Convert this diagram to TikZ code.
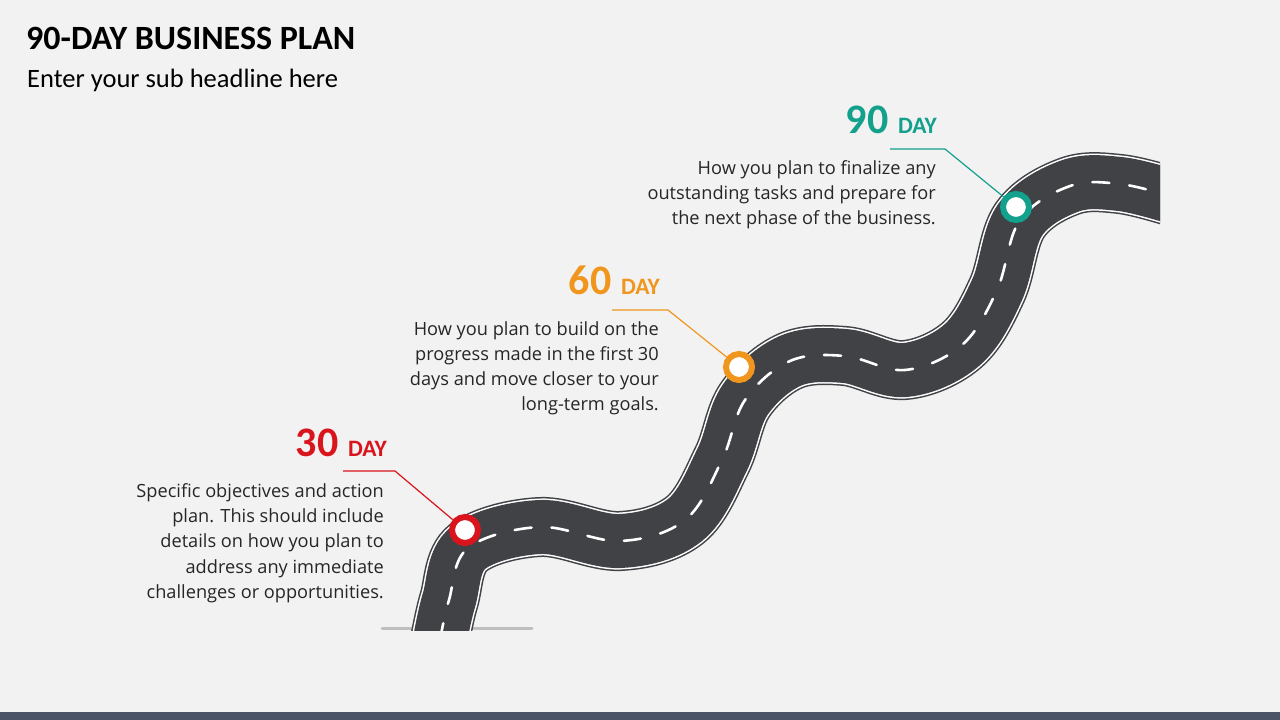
\documentclass[tikz,border=0pt]{standalone}
\usepackage{fontspec}
\setmainfont{Carlito}
\newfontfamily\bodyfont{Open Sans}
\definecolor{rd}{HTML}{D9141C}
\definecolor{og}{HTML}{F0961E}
\definecolor{tl}{HTML}{13A08C}
\definecolor{asph}{HTML}{404246}
\definecolor{barc}{HTML}{4A5466}
\begin{document}
\begin{tikzpicture}[x=1pt,y=-1pt,
  body/.style={align=right,font=\bodyfont\fontsize{18.2}{25.3}\selectfont,text=black!85,inner sep=0pt},
  daylbl/.style={inner sep=0pt,anchor=base east},
  ring/.style={circle,draw=#1,line width=6pt,fill=white,minimum size=26pt,inner sep=0pt}]
\fill[black!5] (0,0) rectangle (1280,720);
\fill[barc] (0,712) rectangle (1280,720);
\useasboundingbox (0,0) rectangle (1280,720);
\node[anchor=base west,inner sep=0pt,font=\bfseries\fontsize{34}{38}\selectfont] (title) at (26,49) {90-DAY BUSINESS PLAN};
\node[anchor=base west,inner sep=0pt,font=\fontsize{26.5}{30}\selectfont] (sub) at (27,87) {Enter your sub headline here};
% shadow
\draw[black!25,line width=3pt,line cap=round] (382,628) -- (532,628);
\begin{scope}
\clip (300,100) rectangle (1160,630);
\def\road{plot[smooth,tension=0.6] coordinates {(440,640) (449,600) (468,548) (540,527) (620,541) (685,520) (722,460) (745,400) (790,361) (845,356) (905,370) (962,345) (997,290) (1020,220) (1070,186) (1120,184) (1170,196)}}
\draw[asph,line width=60pt] \road;
\draw[white,line width=57pt] \road;
\draw[asph,line width=54pt] \road;
\draw[white,line width=2.6pt,dash pattern=on 17pt off 20pt,line cap=round] \road;
\end{scope}
% markers
\node[ring=rd] (c1) at (465,530) {};
\node[ring=og] (c2) at (739,367) {};
\node[ring=tl] (c3) at (1016,207) {};
\coordinate (k1) at (395,471); \coordinate (e1) at (343,471);
\coordinate (k2) at (668,310); \coordinate (e2) at (612,310);
\coordinate (k3) at (945,149); \coordinate (e3) at (890,149);
\draw[rd,line width=1.2pt] (c1) -- (k1) -- (e1);
\draw[og,line width=1.2pt] (c2) -- (k2) -- (e2);
\draw[tl,line width=1.2pt] (c3) -- (k3) -- (e3);
\node[daylbl,text=rd] (d1) at (387,456) {\bfseries\fontsize{42}{44}\selectfont 30\ \fontsize{23.5}{26}\selectfont DAY};
\node[daylbl,text=og] (d2) at (660,294) {\bfseries\fontsize{42}{44}\selectfont 60\ \fontsize{23.5}{26}\selectfont DAY};
\node[daylbl,text=tl] (d3) at (937,133) {\bfseries\fontsize{42}{44}\selectfont 90\ \fontsize{23.5}{26}\selectfont DAY};
\node[body,anchor=north east] (t1) at (384,483) {Specific objectives and action\\plan. This should include\\details on how you plan to\\address any immediate\\challenges or opportunities.};
\node[body,anchor=north east] (t2) at (659,321) {How you plan to build on the\\progress made in the first 30\\days and move closer to your\\long-term goals.};
\node[body,anchor=north east] (t3) at (936,160) {How you plan to finalize any\\outstanding tasks and prepare for\\the next phase of the business.};
\end{tikzpicture}
\end{document}
